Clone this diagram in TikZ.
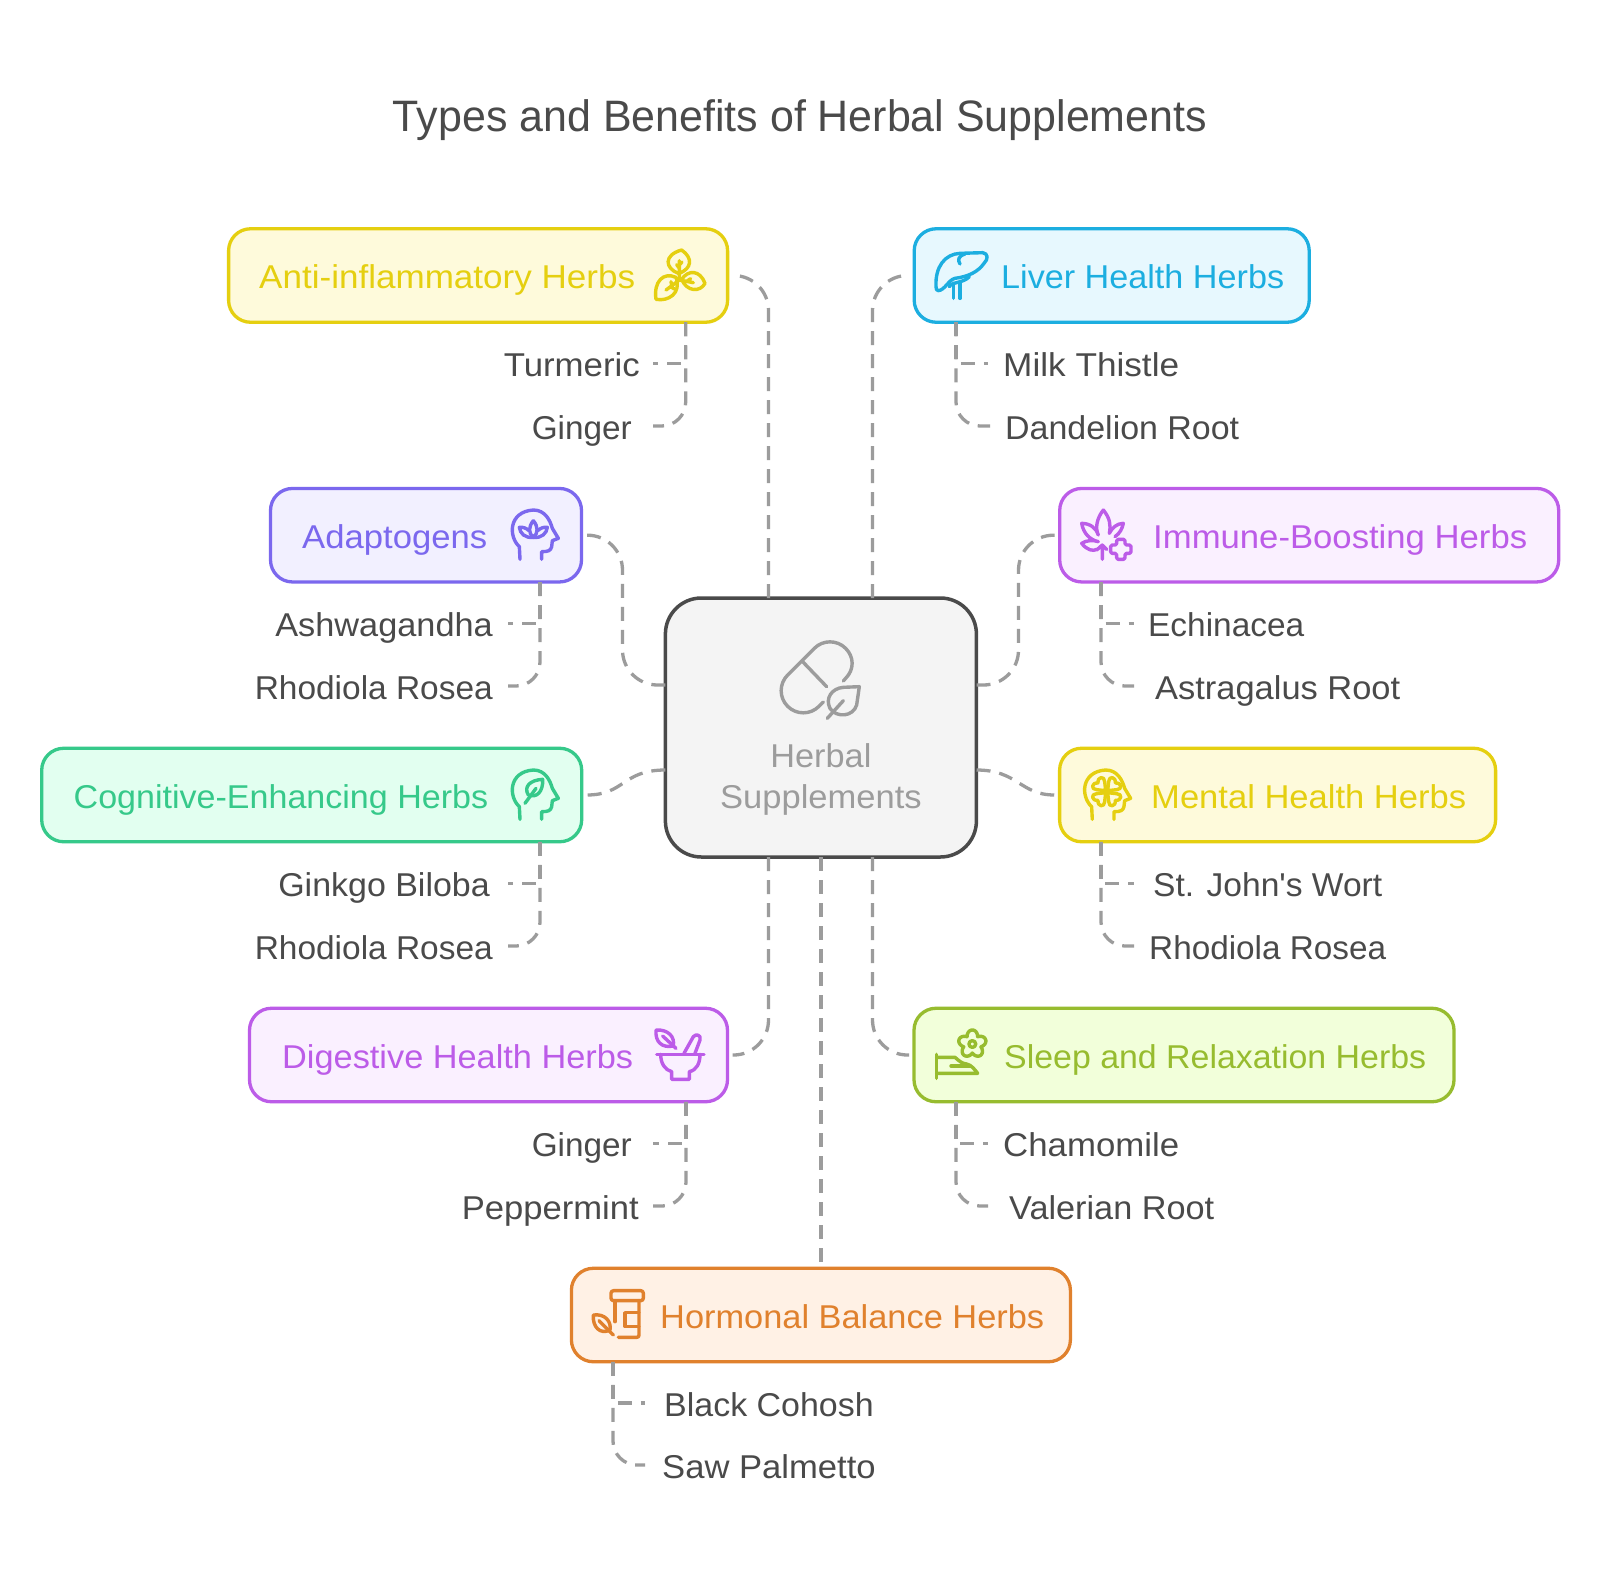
\documentclass[tikz,border=0pt]{standalone}
\usepackage{fontspec}
\setmainfont{Liberation Sans}
\definecolor{cyel}{HTML}{E5CF10}\definecolor{fyel}{HTML}{FEFADB}
\definecolor{cblu}{HTML}{1CAEE0}\definecolor{fblu}{HTML}{E7F8FE}
\definecolor{cvio}{HTML}{7B68EE}\definecolor{fvio}{HTML}{F2F0FF}
\definecolor{cpur}{HTML}{BC5CE8}\definecolor{fpur}{HTML}{FAF0FF}
\definecolor{cgrn}{HTML}{36C98A}\definecolor{fgrn}{HTML}{E2FFF0}
\definecolor{colv}{HTML}{97BC2F}\definecolor{folv}{HTML}{F2FFDA}
\definecolor{corg}{HTML}{E0812D}\definecolor{forg}{HTML}{FFF1E5}
\definecolor{ink}{HTML}{4A4A4A}\definecolor{lineg}{HTML}{9C9C9C}
\newcommand{\fw}[2]{\resizebox{#1pt}{\height}{#2}}
\newcommand{\headpath}{(60,178) -- (58,140) .. controls (25,110) and (25,35) .. (100,30) .. controls (135,30) and (150,60) .. (157,85) -- (175,115) -- (157,122) -- (155,140) .. controls (152,152) and (145,155) .. (125,155) -- (125,178)}
\tikzset{
  herb/.style 2 args={draw=#1,fill=#2,line width=3.3pt,rounded corners=22pt,minimum width=100pt,minimum height=93.5pt,inner sep=0pt,outer sep=0pt},
  hubbox/.style={draw=ink,fill=black!4.5,line width=3.5pt,rounded corners=36pt,minimum width=311pt,minimum height=259pt,outer sep=0pt},
  mainlabel/.style={font=\fontsize{33}{38}\selectfont,text=#1,inner sep=0pt,text height=26pt,text depth=0pt},
  leaflabel/.style={font=\fontsize{33}{38}\selectfont,text=ink,inner sep=0pt,text height=26pt,text depth=0pt},
  conn/.style={draw=lineg,line width=3.3pt,dash pattern=on 14pt off 9pt},
  bend/.style={conn,rounded corners=#1},
  icon/.style={shift={(#1)},x=0.3333pt,y=-0.3333pt,line width=3.4pt,line cap=round,line join=round},
}
\begin{document}
\begin{tikzpicture}[x=1pt,y=-1pt]
\useasboundingbox[fill=white] (0,0) rectangle (1600,1569);
\node[font=\fontsize{44}{50}\selectfont,text=ink,inner sep=0pt,anchor=base] (title) at (800,131.5) {\fw{814}{Types and Benefits of Herbal Supplements}};

% hub
\node[hubbox] (hub) at (820.9,727.5) {};
\node[font=\fontsize{33}{38}\selectfont,text=lineg,inner sep=0pt,anchor=base] (hubA) at (820.9,767) {\fw{101}{Herbal}};
\node[font=\fontsize{33}{38}\selectfont,text=lineg,inner sep=0pt,anchor=base] (hubB) at (820.9,808.5) {\fw{201.5}{Supplements}};
\coordinate (hubWa) at (665.3,685);
\coordinate (hubWb) at (665.3,770);
\coordinate (hubEa) at (976.5,685);
\coordinate (hubEb) at (976.5,770);

% category boxes
\node[herb={cyel}{fyel},minimum width=499pt] (anti) at (478.1,275.5) {};
\node[herb={cblu}{fblu},minimum width=395pt] (liver) at (1111.7,275.5) {};
\node[herb={cvio}{fvio},minimum width=311pt] (adapt) at (426,535.2) {};
\node[herb={cpur}{fpur},minimum width=499pt] (immune) at (1309.2,535.2) {};
\node[herb={cgrn}{fgrn},minimum width=540pt] (cog) at (311.7,795) {};
\node[herb={cyel}{fyel},minimum width=436pt] (mental) at (1277.6,795) {};
\node[herb={cpur}{fpur},minimum width=478pt] (dig) at (488.5,1055) {};
\node[herb={colv}{folv},minimum width=540pt] (sleep) at (1184,1055) {};
\node[herb={corg}{forg},minimum width=499pt] (horm) at (820.9,1315) {};

% category labels
\node[mainlabel=cyel,anchor=west] (antiL) at (259,275.5) {\fw{376}{Anti-inflammatory Herbs}};
\node[mainlabel=cblu,anchor=west] (liverL) at (1001,275.5) {\fw{283}{Liver Health Herbs}};
\node[mainlabel=cvio,anchor=west] (adaptL) at (302,535.2) {\fw{185}{Adaptogens}};
\node[mainlabel=cpur,anchor=west] (immuneL) at (1153,535.2) {\fw{374}{Immune-Boosting Herbs}};
\node[mainlabel=cgrn,anchor=west] (cogL) at (73.5,795) {\fw{414.5}{Cognitive-Enhancing Herbs}};
\node[mainlabel=cyel,anchor=west] (mentalL) at (1151,795) {\fw{315}{Mental Health Herbs}};
\node[mainlabel=cpur,anchor=west] (digL) at (282,1055) {\fw{351}{Digestive Health Herbs}};
\node[mainlabel=colv,anchor=west] (sleepL) at (1004,1055) {\fw{422}{Sleep and Relaxation Herbs}};
\node[mainlabel=corg,anchor=west] (hormL) at (660,1315) {\fw{384}{Hormonal Balance Herbs}};

% leaf labels
\node[leaflabel,anchor=east] (turm) at (640,363.5) {\fw{136}{Turmeric}};
\node[leaflabel,anchor=east] (gin) at (632,426) {\fw{100}{Ginger}};
\node[leaflabel,anchor=west] (milk) at (1003,363.5) {\fw{176}{Milk Thistle}};
\node[leaflabel,anchor=west] (dand) at (1005,426) {\fw{234}{Dandelion Root}};
\node[leaflabel,anchor=east] (ashw) at (493,623.5) {\fw{217.5}{Ashwagandha}};
\node[leaflabel,anchor=east] (rhoA) at (493,686) {\fw{238}{Rhodiola Rosea}};
\node[leaflabel,anchor=west] (echi) at (1148,623.5) {\fw{156}{Echinacea}};
\node[leaflabel,anchor=west] (astr) at (1155,686) {\fw{245}{Astragalus Root}};
\node[leaflabel,anchor=east] (gink) at (490,883.5) {\fw{211.5}{Ginkgo Biloba}};
\node[leaflabel,anchor=east] (rhoB) at (493,946) {\fw{238}{Rhodiola Rosea}};
\node[leaflabel,anchor=west] (john) at (1153,883.5) {\fw{229}{St. John\textquotesingle s Wort}};
\node[leaflabel,anchor=west] (rhoC) at (1149,946) {\fw{237}{Rhodiola Rosea}};
\node[leaflabel,anchor=east] (ginB) at (632,1143.5) {\fw{100}{Ginger}};
\node[leaflabel,anchor=east] (pepp) at (639,1206) {\fw{177}{Peppermint}};
\node[leaflabel,anchor=west] (cham) at (1003,1143.5) {\fw{176}{Chamomile}};
\node[leaflabel,anchor=west] (vale) at (1009,1206) {\fw{205}{Valerian Root}};
\node[leaflabel,anchor=west] (blac) at (664,1403) {\fw{209.5}{Black Cohosh}};
\node[leaflabel,anchor=west] (sawp) at (662,1465) {\fw{213.5}{Saw Palmetto}};

% hub connectors (dashes start at the hub)
\draw[bend=35pt,shorten >=5pt] ([xshift=-52.4pt]hub.north) |- (anti.east);
\draw[bend=35pt,shorten >=5pt] ([xshift=51.6pt]hub.north) |- (liver.west);
\draw[bend=35pt,shorten >=5pt] (hubWa) -- (622.5,685) -- (622.5,535.2) -- (adapt.east);
\draw[bend=35pt,shorten >=5pt] (hubEa) -- (1018.5,685) -- (1018.5,535.2) -- (immune.west);
\draw[conn,shorten >=5pt] (hubWb) .. controls (622,770) and (625,795) .. (cog.east);
\draw[conn,shorten >=5pt] (hubEb) .. controls (1018,770) and (1020,795) .. (mental.west);
\draw[bend=35pt,shorten >=5pt] ([xshift=-52.4pt]hub.south) |- (dig.east);
\draw[bend=35pt,shorten >=5pt] ([xshift=51.6pt]hub.south) |- (sleep.west);
\draw[conn,shorten >=5pt] (hub.south) -- (horm.north);

% leaf connectors
\coordinate (antiS) at (685.7,322.3);
\coordinate (liverS) at (956,322.3);
\coordinate (adaptS) at (540,582);
\coordinate (immuneS) at (1101,582);
\coordinate (cogS) at (540,841.8);
\coordinate (mentalS) at (1101,841.8);
\coordinate (digS) at (686,1101.8);
\coordinate (sleepS) at (956,1101.8);
\coordinate (hormS) at (613,1361.8);
\draw[conn,shorten >=13pt] (antiS) |- (turm.east);
\draw[bend=24pt,shorten >=21pt] (antiS) |- (gin.east);
\draw[conn,shorten >=15pt] (liverS) |- (milk.west);
\draw[bend=24pt,shorten >=15pt] (liverS) |- (dand.west);
\draw[conn,shorten >=15pt] (adaptS) |- (ashw.east);
\draw[bend=24pt,shorten >=15pt] (adaptS) |- (rhoA.east);
\draw[conn,shorten >=14pt] (immuneS) |- (echi.west);
\draw[bend=24pt,shorten >=21pt] (immuneS) |- (astr.west);
\draw[conn,shorten >=18pt] (cogS) |- (gink.east);
\draw[bend=24pt,shorten >=15pt] (cogS) |- (rhoB.east);
\draw[conn,shorten >=19pt] (mentalS) |- (john.west);
\draw[bend=24pt,shorten >=15pt] (mentalS) |- (rhoC.west);
\draw[conn,shorten >=21pt] (digS) |- (ginB.east);
\draw[bend=24pt,shorten >=14pt] (digS) |- (pepp.east);
\draw[conn,shorten >=15pt] (sleepS) |- (cham.west);
\draw[bend=24pt,shorten >=21pt] (sleepS) |- (vale.west);
\draw[conn,shorten >=19pt] (hormS) |- (blac.west);
\draw[bend=24pt,shorten >=17pt] (hormS) |- (sawp.west);

% icons
\begin{scope}[icon={640,590},draw=lineg]
  \draw (610,273) -- (617,265) .. controls (643,239) and (643,201) .. (617,175) .. controls (591,149) and (549,149) .. (523,175) -- (443,255) .. controls (417,281) and (417,323) .. (443,349) .. controls (469,375) and (511,375) .. (537,349) -- (550,336);
  \draw (488,215) -- (560,290);
  \draw (658,290) -- (610,292) .. controls (575,295) and (555,325) .. (570,355) .. controls (590,385) and (640,380) .. (650,345) -- cycle;
  \draw (610,332) -- (562,385);
\end{scope}
\begin{scope}[icon={640,240},draw=cyel]
  \draw (115,100) .. controls (75,85) and (70,45) .. (125,30) .. controls (160,55) and (155,85) .. (118,100);
  \draw (125,118) .. controls (145,88) and (180,90) .. (195,130) .. controls (180,158) and (140,155) .. (125,118);
  \draw (108,112) .. controls (70,95) and (40,125) .. (48,178) .. controls (85,185) and (125,160) .. (108,112);
  \draw (118,118) -- (118,62) (118,85) -- (110,74) (118,75) -- (126,66);
  \draw (118,120) -- (78,150) (95,137) -- (93,125) (92,140) -- (103,147);
  \draw (118,120) -- (160,128) (140,124) -- (152,116);
\end{scope}
\begin{scope}[icon={910,230},draw=cblu]
  \draw (78,170) .. controls (75,110) and (105,72) .. (150,70) -- (218,68) .. controls (235,70) and (235,88) .. (222,100) .. controls (205,125) and (175,140) .. (135,145) .. controls (115,150) and (105,180) .. (85,182) .. controls (80,182) and (78,178) .. (78,170) -- cycle;
  \draw (165,72) .. controls (145,78) and (142,90) .. (150,102);
  \draw (118,170) .. controls (125,155) and (160,160) .. (178,140);
  \draw (130,205) -- (130,160) (150,205) -- (150,160);
\end{scope}
\begin{scope}[icon={500,500},draw=cvio]
  \draw \headpath;
  \draw (100,62) .. controls (85,80) and (85,100) .. (100,112) .. controls (115,100) and (115,80) .. (100,62);
  \draw (100,112) .. controls (75,115) and (60,100) .. (58,82) .. controls (68,80) and (80,85) .. (87,92);
  \draw (100,112) .. controls (125,115) and (140,100) .. (142,82) .. controls (132,80) and (120,85) .. (113,92);
\end{scope}
\begin{scope}[icon={1065,500},draw=cpur]
  \draw (115,30) .. controls (95,55) and (90,85) .. (100,105) .. controls (95,85) and (75,70) .. (50,70) .. controls (55,100) and (75,120) .. (100,125) .. controls (85,120) and (65,120) .. (50,130) .. controls (65,150) and (85,155) .. (95,148);
  \draw (115,30) .. controls (135,55) and (138,75) .. (133,100) .. controls (140,85) and (155,70) .. (175,70) .. controls (172,85) and (165,100) .. (150,110);
  \draw (112,178) -- (112,135) (95,150) -- (112,135) -- (125,148);
  \draw[rounded corners=1.5pt] (155,118) -- (180,118) -- (180,135) -- (198,135) -- (198,160) -- (180,160) -- (180,178) -- (155,178) -- (155,160) -- (137,160) -- (137,135) -- (155,135) -- cycle;
\end{scope}
\begin{scope}[icon={500,760},draw=cgrn]
  \draw \headpath;
  \draw (85,105) .. controls (70,80) and (90,60) .. (128,58) .. controls (130,95) and (110,115) .. (85,105);
  \draw (75,130) -- (108,85);
\end{scope}
\begin{scope}[icon={1065,760},draw=cyel]
  \begin{scope}[xshift=7.3pt]
    \draw \headpath;
  \end{scope}
  \foreach \a in {0,90,180,270}{
    \begin{scope}[shift={(125,95)},rotate=\a]
      \draw (-3,-3) -- (-30,-6) .. controls (-48,-6) and (-46,-28) .. (-26,-26) .. controls (-28,-46) and (-6,-48) .. (-6,-30) -- cycle;
    \end{scope}
  }
\end{scope}
\begin{scope}[icon={640,1020},draw=cpur]
  \draw (50,103) -- (192,103);
  \draw (62,103) .. controls (62,130) and (75,150) .. (95,155) -- (95,178) -- (148,178) -- (148,155) .. controls (170,150) and (180,130) .. (180,103);
  \draw (132,100) -- (160,50) .. controls (168,40) and (185,45) .. (180,60) -- (165,100);
  \draw (48,30) .. controls (45,65) and (65,85) .. (100,78) .. controls (105,50) and (85,28) .. (48,30);
  \draw (68,48) -- (108,85);
\end{scope}
\begin{scope}[icon={925,1020},draw=colv]
  \draw plot[domain=0:360,samples=121] ({142+(27+15*abs(cos(2.5*(\x+90))))*cos(\x)},{72+(27+15*abs(cos(2.5*(\x+90))))*sin(\x)}) -- cycle;
  \draw (142,72) circle[radius=3.4pt];
  \draw (35,103) -- (35,175);
  \draw (35,112) -- (90,112) .. controls (105,125) and (110,130) .. (125,132) .. controls (140,135) and (150,150) .. (158,160) -- (35,160);
  \draw (78,138) -- (135,138);
\end{scope}
\begin{scope}[icon={585,1280},draw=corg]
  \draw[rounded corners=2.5pt] (78,32) rectangle (175,62);
  \draw (90,62) -- (90,125);
  \draw (162,62) -- (162,165) .. controls (162,170) and (160,172) .. (155,172) -- (100,172);
  \draw (162,98) -- (120,98) -- (120,140) -- (162,140);
  \draw (25,105) .. controls (22,140) and (45,165) .. (75,150) .. controls (80,125) and (60,100) .. (25,105);
  \draw (42,122) -- (85,165);
\end{scope}
\end{tikzpicture}
\end{document}
